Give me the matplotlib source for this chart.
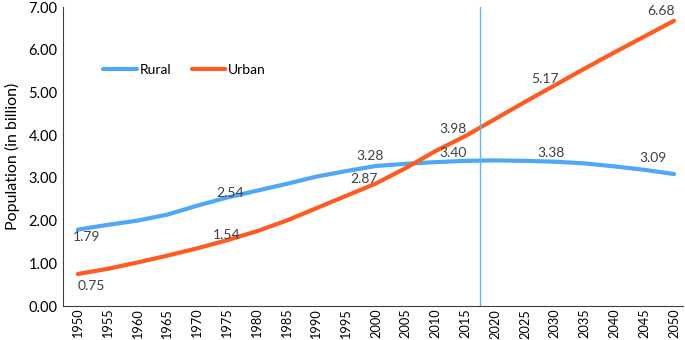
import matplotlib
matplotlib.use("Agg")
import matplotlib.pyplot as plt
import numpy as np

plt.rcParams['font.family'] = ['Lato', 'DejaVu Sans']

years = list(range(1950, 2051, 5))
rural = [1.79, 1.90, 2.00, 2.14, 2.35, 2.54, 2.70, 2.86, 3.03, 3.16, 3.28,
         3.33, 3.37, 3.40, 3.41, 3.40, 3.38, 3.34, 3.27, 3.19, 3.09]
urban = [0.75, 0.87, 1.02, 1.18, 1.35, 1.54, 1.75, 2.00, 2.29, 2.58, 2.87,
         3.23, 3.63, 3.98, 4.38, 4.78, 5.17, 5.56, 5.94, 6.31, 6.68]
marker_year = 2017.5

# labelled points: (year, value, dx, dy)
rural_labels = [(1950, 1.79, 1.5, -0.17), (1975, 2.54, 0.5, 0.11), (2000, 3.28, -1, 0.23),
                (2015, 3.40, -2, 0.18), (2030, 3.38, -0.7, 0.2), (2050, 3.09, -3.5, 0.37)]
urban_labels = [(1950, 0.75, 2.3, -0.28), (1975, 1.54, 0, 0.12), (2000, 2.87, -2, 0.1),
                (2015, 3.98, -2, 0.16), (2030, 5.17, -1.7, 0.15), (2050, 6.68, -2.2, 0.23)]

blue = '#4DA8F5'
orange = '#FF5A1F'

fig = plt.figure(figsize=(6.85, 3.4), dpi=100)
ax = fig.add_axes([0.092, 0.1, 0.905, 0.879])

ax.plot(years, rural, color=blue, lw=3, label='Rural', solid_capstyle='round')
ax.plot(years, urban, color=orange, lw=3, label='Urban', solid_capstyle='round')
ax.axvline(marker_year, color='#5BB8F5', lw=1)

for x, v, dx, dy in rural_labels + urban_labels:
    ax.text(x + dx, v + dy, f'{v:.2f}', ha='center', va='center', fontsize=10, color='#404040')

ax.set_xlim(1947.5, 2051.5)
ax.set_ylim(0, 7)
ax.set_xticks(years)
ax.set_xticklabels([str(y) for y in years], rotation=90, fontsize=9.2)
ax.set_yticks(np.arange(0, 7.01, 1))
ax.set_yticklabels([f'{v:.2f}' for v in np.arange(0, 7.01, 1)], fontsize=10.5)
ax.tick_params(length=0, pad=4)
ax.tick_params(axis='x', pad=2)
ax.set_ylabel('Population (in billion)', fontsize=11.5, labelpad=6)

for s in ['top', 'right']:
    ax.spines[s].set_visible(False)
ax.spines['left'].set_color('#404040')
ax.spines['bottom'].set_color('#404040')

ax.legend(loc='center left', bbox_to_anchor=(0.045, 0.79), ncol=2, frameon=False,
          fontsize=10, handlelength=2.4, handletextpad=0.2, columnspacing=1.5)

fig.savefig('out.png', dpi=100)
